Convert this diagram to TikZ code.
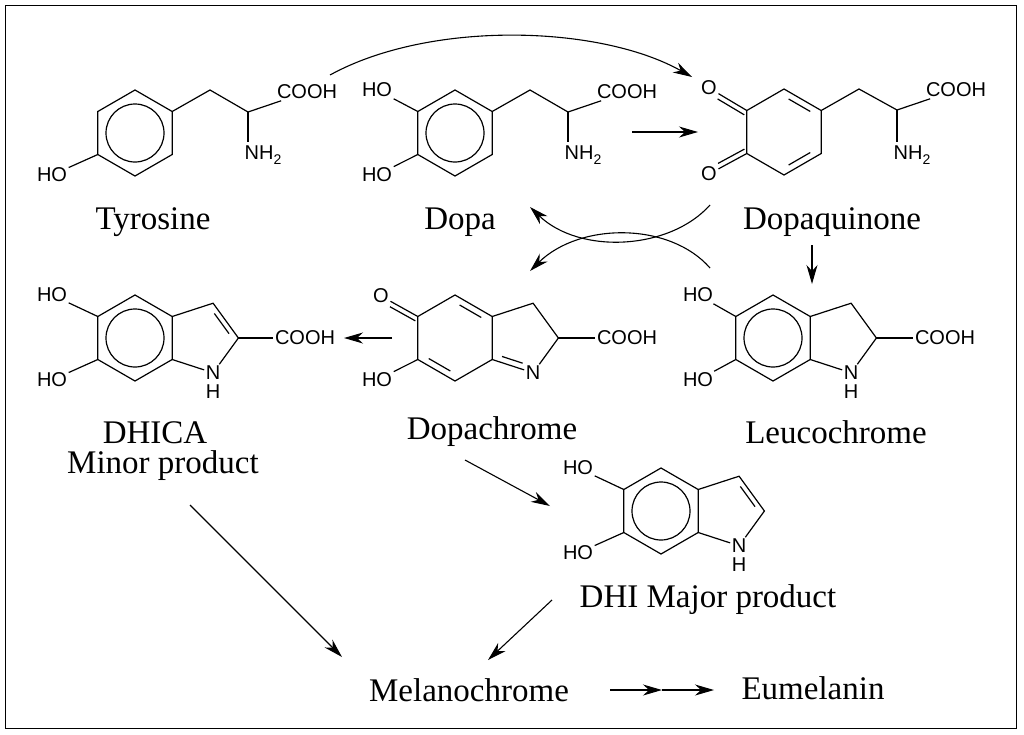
\documentclass[tikz,border=0pt]{standalone}
\usepackage{fontspec}
\setmainfont{Liberation Serif}
\newfontfamily\chemf{Liberation Sans}
\usetikzlibrary{calc,arrows.meta}
\tikzset{
 lab/.style={font=\fontsize{33}{35}\selectfont, inner sep=0pt},
 atm/.style={font=\chemf\fontsize{20}{21}\selectfont, inner sep=1.5pt},
 bond/.style={line width=1.2pt},
 arr/.style={line width=1.1pt,-{Stealth[length=19pt,width=11pt,inset=6pt]}},
}
\newcommand\ring[3]{%
 \coordinate (#1) at (#2,#3);
 \coordinate (#1T) at (#2,#3-43);
 \coordinate (#1UR) at (#2+37.2,#3-21.5);
 \coordinate (#1LR) at (#2+37.2,#3+21.5);
 \coordinate (#1B) at (#2,#3+43);
 \coordinate (#1LL) at (#2-37.2,#3+21.5);
 \coordinate (#1UL) at (#2-37.2,#3-21.5);
 \draw[bond] (#1T)--(#1UR)--(#1LR)--(#1B)--(#1LL)--(#1UL)--cycle;}
\newcommand\arom[1]{\draw[bond] (#1) circle[radius=29pt];}
\newcommand\dbl[3]{\draw[bond] ($($(#1)!.15!(#2)$)!.17!(#3)$) -- ($($(#1)!.85!(#2)$)!.17!(#3)$);}
\newcommand\pent[3]{%
 \coordinate (#1P) at (#2+37.2+29.6,#3);
 \coordinate (#1C3) at (#2+37.2+29.6+11.3,#3-34.8);
 \coordinate (#1C2) at (#2+37.2+29.6+36.6,#3);
 \coordinate (#1Nc) at (#2+37.2+29.6+11.3,#3+34.8);}
\newcommand\NH{NH{\fontsize{14}{14}\selectfont\raisebox{-5pt}{2}}}
\begin{document}
\begin{tikzpicture}[x=1pt,y=-1pt]
\useasboundingbox (0,0) rectangle (1024,734);
\draw[line width=1pt] (5,5) rectangle (1016,728);

\ring{ty}{135}{133}\arom{ty}
\node[atm] (tyHO) at (52,175) {HO};
\draw[bond] (tyLL) -- (tyHO);
\coordinate (tyA) at (210,90); \coordinate (tyB) at (248,112);
\node[atm] (tyCOOH) at (307,92) {COOH};
\node[atm] (tyNH) at (263,155) {\NH};
\draw[bond] (tyUR)--(tyA)--(tyB)--(tyCOOH);
\draw[bond] (tyB) -- (248,142);
\node[lab] (tyL) at (153,222) {Tyrosine};

\ring{dp}{455}{133}\arom{dp}
\node[atm] (dpHO1) at (377,90) {HO};
\node[atm] (dpHO2) at (377,175) {HO};
\draw[bond] (dpUL) -- (dpHO1);
\draw[bond] (dpLL) -- (dpHO2);
\coordinate (dpA) at (530,90); \coordinate (dpB) at (568,112);
\node[atm] (dpCOOH) at (627,92) {COOH};
\node[atm] (dpNH) at (583,155) {\NH};
\draw[bond] (dpUR)--(dpA)--(dpB)--(dpCOOH);
\draw[bond] (dpB) -- (568,142);
\node[lab] (dpL) at (460,222) {Dopa};

\ring{dq}{784}{132}
\dbl{dqT}{dqUR}{dq}\dbl{dqLR}{dqB}{dq}
\node[atm] (dqO1) at (709,88) {O};
\node[atm] (dqO2) at (709,174) {O};
\draw[bond] (dqUL) -- (dqO1);
\draw[bond] ($(dqUL)!5pt!90:(dqO1)$) -- ($($(dqO1.center)!13pt!(dqUL)$)!5pt!-90:(dqUL)$);
\draw[bond] (dqLL) -- (dqO2);
\draw[bond] ($(dqLL)!5pt!-90:(dqO2)$) -- ($($(dqO2.center)!13pt!(dqLL)$)!5pt!90:(dqLL)$);
\coordinate (dqA) at (859,89); \coordinate (dqB) at (897,110);
\node[atm] (dqCOOH) at (956,90) {COOH};
\node[atm] (dqNH) at (912,155) {\NH};
\draw[bond] (dqUR)--(dqA)--(dqB)--(dqCOOH);
\draw[bond] (dqB) -- (897,142);
\node[lab] (dqL) at (832,222) {Dopaquinone};

\ring{da}{135}{338}\arom{da}
\pent{da}{135}{338}
\node[atm] (daN) at (daNc) {N};
\node[atm] (daH) at ($(daNc)+(0,19)$) {H};
\node[atm] (daHO1) at (52,295) {HO};
\node[atm] (daHO2) at (52,380) {HO};
\draw[bond] (daUL) -- (daHO1);
\draw[bond] (daLL) -- (daHO2);
\draw[bond] (daUR)--(daC3)--(daC2)--(daN)--(daLR);
\dbl{daC3}{daC2}{daP}
\node[atm] (daCOOH) at (305,338) {COOH};
\draw[bond] (daC2) -- (daCOOH);
\node[lab] (daL1) at (155,433) {DHICA};
\node[lab] (daL2) at (163,466) {Minor product};

\ring{dc}{455}{338}
\pent{dc}{455}{338}
\dbl{dcT}{dcUR}{dc}\dbl{dcLL}{dcB}{dc}
\node[atm] (dcN) at (dcNc) {N};
\node[atm] (dcO) at (381,296) {O};
\node[atm] (dcHO) at (377,380) {HO};
\draw[bond] (dcUL) -- (dcO);
\draw[bond] ($(dcUL)!5pt!90:(dcO)$) -- ($($(dcO.center)!13pt!(dcUL)$)!5pt!-90:(dcUL)$);
\draw[bond] (dcLL) -- (dcHO);
\draw[bond] (dcUR)--(dcC3)--(dcC2)--(dcN)--(dcLR);
\draw[bond] ($($(dcLR)!.12!(dcNc)$)!.2!(dcP)$) -- ($($(dcLR)!.75!(dcNc)$)!.2!(dcP)$);
\node[atm] (dcCOOH) at (627,338) {COOH};
\draw[bond] (dcC2) -- (dcCOOH);
\node[lab] (dcL) at (492,432) {Dopachrome};

\ring{lc}{773}{338}\arom{lc}
\pent{lc}{773}{338}
\node[atm] (lcN) at (lcNc) {N};
\node[atm] (lcH) at ($(lcNc)+(0,19)$) {H};
\node[atm] (lcHO1) at (698,295) {HO};
\node[atm] (lcHO2) at (698,380) {HO};
\draw[bond] (lcUL) -- (lcHO1);
\draw[bond] (lcLL) -- (lcHO2);
\draw[bond] (lcUR)--(lcC3)--(lcC2)--(lcN)--(lcLR);
\node[atm] (lcCOOH) at (945,338) {COOH};
\draw[bond] (lcC2) -- (lcCOOH);
\node[lab] (lcL) at (836,432) {Leucochrome};

\ring{dh}{661}{511}\arom{dh}
\pent{dh}{661}{511}
\node[atm] (dhN) at (dhNc) {N};
\node[atm] (dhH) at ($(dhNc)+(0,19)$) {H};
\node[atm] (dhHO1) at (578,468) {HO};
\node[atm] (dhHO2) at (578,553) {HO};
\draw[bond] (dhUL) -- (dhHO1);
\draw[bond] (dhLL) -- (dhHO2);
\draw[bond] (dhUR)--(dhC3)--(dhC2)--(dhN)--(dhLR);
\dbl{dhC3}{dhC2}{dhP}
\node[lab] (dhL) at (708,600) {DHI Major product};

\node[lab] (mc) at (469,690) {Melanochrome};
\node[lab] (eu) at (813,688) {Eumelanin};

\coordinate (a1s) at (330,75); \coordinate (a1e) at (692,77);
\draw[arr] (a1s) .. controls (430,20) and (600,25) .. (a1e);
\coordinate (a2s) at (632,132); \coordinate (a2e) at (698,132);
\draw[arr] (a2s) -- (a2e);
\coordinate (a3s) at (710,205); \coordinate (a3e) at (530,207);
\draw[arr] (a3s) .. controls (670,250) and (580,255) .. (a3e);
\coordinate (a4s) at (710,268); \coordinate (a4e) at (530,271);
\draw[arr] (a4s) .. controls (670,222) and (580,222) .. (a4e);
\coordinate (a5s) at (812,245); \coordinate (a5e) at (812,284);
\draw[arr] (a5s) -- (a5e);
\coordinate (a6s) at (392,338); \coordinate (a6e) at (344,338);
\draw[arr] (a6s) -- (a6e);
\coordinate (a7s) at (465,460); \coordinate (a7e) at (550,506);
\draw[arr] (a7s) -- (a7e);
\coordinate (a8s) at (190,505); \coordinate (a8e) at (342,657);
\draw[arr] (a8s) -- (a8e);
\coordinate (a9s) at (552,600); \coordinate (a9e) at (488,660);
\draw[arr] (a9s) -- (a9e);
\coordinate (b1) at (610,690); \coordinate (b2) at (662,690); \coordinate (b3) at (714,690);
\draw[arr] (b1) -- (b2);
\draw[arr] (b2) -- (b3);
\end{tikzpicture}
\end{document}
